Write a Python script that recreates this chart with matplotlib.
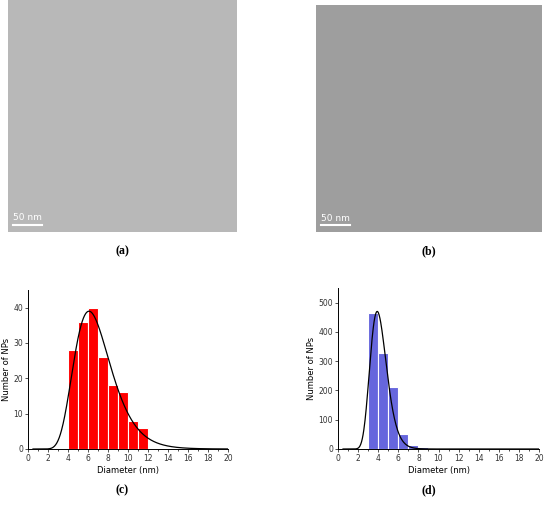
import numpy as np
import matplotlib
matplotlib.use("Agg")
import matplotlib.pyplot as plt

# data
c_bins = [4.5, 5.5, 6.5, 7.5, 8.5, 9.5, 10.5, 11.5]
c_counts = [28, 36, 40, 26, 18, 16, 8, 6]
d_bins = [3.5, 4.5, 5.5, 6.5, 7.5, 8.5, 10.5]
d_counts = [465, 328, 212, 52, 12, 8, 3]
# lognormal fit parameters: mode, sigma, peak height
c_fit = (6.1, 0.30, 39)
d_fit = (3.9, 0.21, 470)
xticks = list(range(0, 21, 2))

W, H = 550, 509
fig = plt.figure(figsize=(W/100, H/100), dpi=100)

def ax_px(x0, y0, x1, y1):
    return fig.add_axes([x0/W, 1-y1/H, (x1-x0)/W, (y1-y0)/H])

def lognorm(x, mode, s, peak):
    mu = np.log(mode) + s**2
    f = np.exp(-(np.log(x)-mu)**2/(2*s**2))/x
    fm = np.exp(-(np.log(mode)-mu)**2/(2*s**2))/mode
    return peak*f/fm

# images (placeholders)
for (x0, y0, x1, y1, g) in [(8, 0, 237, 232, 0.72), (316, 5, 542, 232, 0.62)]:
    a = ax_px(x0, y0, x1, y1)
    a.set_facecolor(str(g)); a.set_xticks([]); a.set_yticks([])
    a.set_xlim(0, 1); a.set_ylim(0, 1)
    for s in a.spines.values(): s.set_visible(False)
    a.plot([0.02, 0.15], [0.03, 0.03], color='white', lw=1.5)
    a.text(0.02, 0.05, '50 nm', color='white', fontsize=6.5)

def hist(ax, bins, counts, color, fit, ylim, yticks):
    ax.bar(bins, counts, width=1.0, color=color, edgecolor='white', linewidth=0.8)
    x = np.linspace(0.5, 20, 500)
    ax.plot(x, lognorm(x, *fit), color='black', lw=0.9)
    ax.set_xlim(0, 20); ax.set_ylim(0, ylim)
    ax.set_xticks(xticks); ax.set_yticks(yticks)
    ax.set_xticks(range(1, 20, 2), minor=True)
    ax.tick_params(labelsize=5.5, length=2, width=0.6, pad=1.5, colors='#333333')
    ax.tick_params(which='minor', length=1.2, width=0.5)
    for s in ['top', 'right']: ax.spines[s].set_visible(False)
    for s in ['left', 'bottom']: ax.spines[s].set_linewidth(0.7)
    ax.set_xlabel('Diameter (nm)', fontsize=6, labelpad=2)
    ax.set_ylabel('Number of NPs', fontsize=6, labelpad=2)

ac = ax_px(28, 290, 228, 449)
hist(ac, c_bins, c_counts, '#ff0000', c_fit, 45, [0, 10, 20, 30, 40])
ad = ax_px(338, 288, 539, 449)
hist(ad, d_bins, d_counts, '#6666dd', d_fit, 550, [0, 100, 200, 300, 400, 500])

for (x, y, t) in [(122, 251, '(a)'), (429, 251, '(b)'), (122, 490, '(c)'), (429, 490, '(d)')]:
    fig.text(x/W, 1-y/H, t, ha='center', va='center', fontsize=8.5,
             family='Liberation Serif', fontweight='bold')

fig.savefig('out.png', dpi=100, facecolor='white')
